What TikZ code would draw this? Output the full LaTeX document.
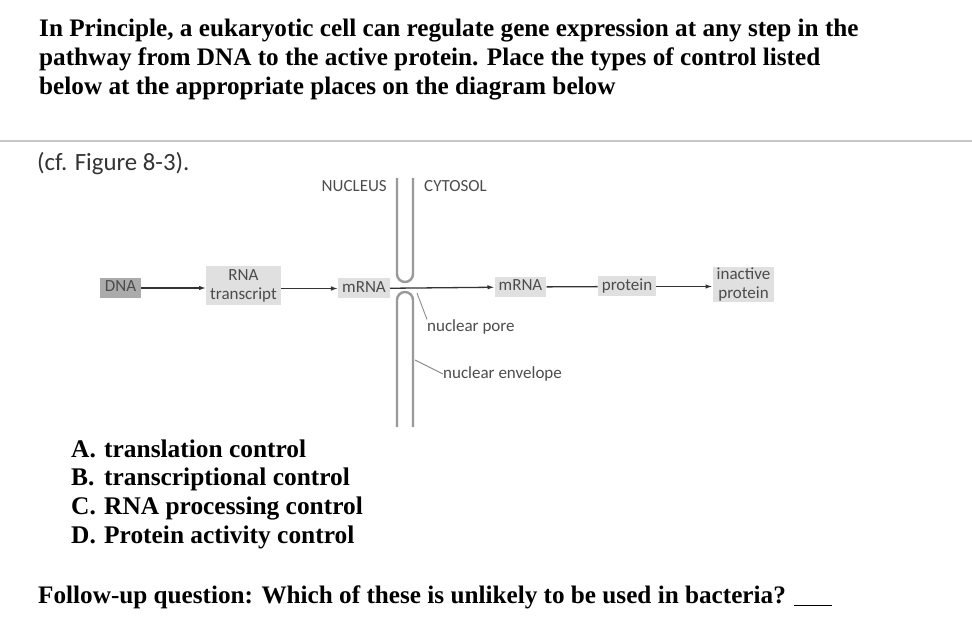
\documentclass[tikz,border=0pt]{standalone}
\usepackage{fontspec}
\setmainfont{Liberation Serif}
\newfontfamily\calfont{Carlito}
\usetikzlibrary{arrows.meta,positioning}

\tikzset{
  question/.style={font=\fontsize{25.2}{29}\selectfont\bfseries, anchor=base west, inner sep=0pt},
  listitem/.style={font=\fontsize{25.4}{29}\selectfont\bfseries, anchor=base west, inner sep=0pt},
  lbl/.style={font=\calfont\fontsize{17}{19}\selectfont, text=black!70, inner sep=0pt},
  darkbox/.style={lbl, fill=black!33, inner xsep=5pt, inner ysep=3pt, text height=11pt, text depth=3pt},
  lightbox/.style={lbl, fill=black!12, inner xsep=4pt, inner ysep=3pt, text height=11pt, text depth=3pt},
  twobox/.style={lbl, fill=black!12, inner xsep=4pt, inner ysep=2pt, align=center},
  flow/.style={-{Latex[length=7pt,width=4.5pt]}, line width=1.3pt, black!80},
  membrane/.style={line width=2.4pt, black!40},
  leader/.style={line width=0.9pt, black!45}
}

\newcommand{\choice}[2]{\makebox[33pt][l]{#1}#2}

\begin{document}
\begin{tikzpicture}[x=1pt,y=-1pt]
\useasboundingbox (0,0) rectangle (972,636);

% Question text
\node[question] (q1) at (39,37) {In Principle, a eukaryotic cell can regulate gene expression at any step in the};
\node[question] (q2) at (39,66) {pathway from DNA to the active protein. Place the types of control listed};
\node[question] (q3) at (39,95) {below at the appropriate places on the diagram below};

% Separator
\draw[black!22, line width=1.6pt] (0,141) -- (972,141);
\node[font=\calfont\fontsize{24.8}{25}\selectfont, text=black!80, anchor=base west, inner sep=0pt] (cf) at (37,171) {(cf. Figure 8-3).};

% === Nuclear envelope ===
\draw[membrane] (397,178) -- (397,274) arc[start angle=180, end angle=0, radius=8] -- (413,178);
\draw[membrane] (397,427) -- (397,300) arc[start angle=180, end angle=360, radius=8] -- (413,427);
\node[lbl, anchor=east] (nucleus) at (387,186) {NUCLEUS};
\node[lbl, anchor=west] (cytosol) at (424,186) {CYTOSOL};

% Pathway nodes
\node[darkbox] (dna) at (120.5,288) {DNA};
\node[twobox, inner ysep=3pt] (rna) at (243.5,285.5) {RNA\\transcript};
\node[lightbox] (mrna1) at (364,288.5) {mRNA};
\node[lightbox] (mrna2) at (520.5,287) {mRNA};
\node[lightbox] (prot) at (627,286.5) {protein};
\node[twobox, inner ysep=1pt] (inact) at (743.5,284.5) {inactive\\protein};

\draw[flow] (dna) -- (rna.west |- dna);
\draw[flow] (rna.east |- mrna1) -- (mrna1);
\draw[flow] (mrna1) -- (mrna2);
\draw[line width=1.3pt, black!80] (mrna2) -- (prot);
\draw[flow] (prot) -- (inact.west |- prot);

% Leaders
\coordinate (pore) at (417,293);
\coordinate (env) at (415,360);
\node[lbl, anchor=west] (porelbl) at (427,327) {nuclear pore};
\node[lbl, anchor=west] (envlbl) at (443,374) {nuclear envelope};
\draw[leader] (pore) -- (porelbl.north west);
\draw[leader] (env) -- (envlbl.west);

% Choices
\node[listitem] (a) at (71,457) {\choice{A.}{translation control}};
\node[listitem] (b) at (71,485) {\choice{B.}{transcriptional control}};
\node[listitem] (c) at (71,514) {\choice{C.}{RNA processing control}};
\node[listitem] (d) at (71,543) {\choice{D.}{Protein activity control}};

\node[question] (follow) at (38,603) {Follow-up question: Which of these is unlikely to be used in bacteria? \rule[-3pt]{38pt}{1.2pt}};
\end{tikzpicture}
\end{document}
